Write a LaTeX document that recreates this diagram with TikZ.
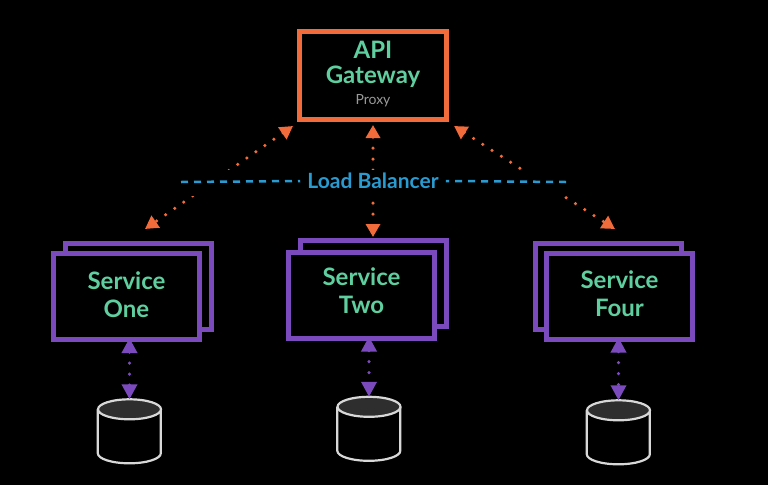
\documentclass[tikz,border=0pt]{standalone}
\usepackage{fontspec}
\setmainfont{Lato}
\usetikzlibrary{arrows.meta}
\definecolor{org}{HTML}{F26B3A}
\definecolor{pur}{HTML}{7B4BBD}
\definecolor{tl}{HTML}{5FCFA0}
\definecolor{blu}{HTML}{2A9BD0}
\definecolor{gry}{HTML}{9A9A9A}
\definecolor{cyl}{HTML}{D8D8D8}
\newcommand{\mydb}[3]{%
  \node[minimum width=63pt,minimum height=64pt,inner sep=0pt] (#1) at (#2,#3) {};
  \draw[cyl,line width=2.2pt] (#1.north west) ++(0,10) -- ++(0,44) arc[start angle=180,end angle=360,x radius=31.5pt,y radius=10pt] -- ++(0,-44);
  \draw[cyl,line width=2.2pt,fill=black!82!white] (#1.north) ++(0,10) ellipse[x radius=31.5pt,y radius=10pt];
}
\begin{document}
\begin{tikzpicture}[x=1pt,y=-1pt,
  box/.style={draw=pur,line width=5pt,fill=black,minimum width=146pt,minimum height=86pt},
  lbl/.style={text=tl,font=\bfseries\fontsize{24}{28}\selectfont,align=center},
  oarr/.style={org,line width=3.5pt,line cap=round,dash pattern=on 0pt off 11pt,{Triangle[length=13pt,width=14pt]}-{Triangle[length=13pt,width=14pt]}},
  parr/.style={pur,line width=3.5pt,line cap=round,dash pattern=on 0pt off 11pt,{Triangle[length=15pt,width=15pt]}-{Triangle[length=15pt,width=15pt]}}]
\fill[black] (0,0) rectangle (768,485);
\useasboundingbox (0,0) rectangle (768,485);
% API gateway
\node[draw=org,line width=5pt,minimum width=147pt,minimum height=88pt] (api) at (373,75) {};
\node[lbl] (apit) at (373,64) {API\\[-3pt]Gateway};
\node[text=gry,font=\fontsize{14}{16}\selectfont] (proxy) at (373,101) {Proxy};
% services
\node[box] (s1b) at (138.5,286.5) {};
\node[box] (s1) at (126.5,296.5) {};
\node[lbl] (s1t) at (126.5,295) {Service\\One};
\node[box] (s2b) at (373,283.5) {};
\node[box] (s2) at (361.5,295) {};
\node[lbl] (s2t) at (361.5,291) {Service\\Two};
\node[box] (s4b) at (608.5,286.5) {};
\node[box] (s4) at (619.5,296) {};
\node[lbl] (s4t) at (619.5,294) {Service\\Four};
% databases
\mydb{d1}{129.5}{431.5}
\mydb{d2}{369}{429}
\mydb{d4}{618.5}{432.5}
% orange arrows
\coordinate (a1) at (293,126); \coordinate (b1) at (145,229);
\coordinate (a2) at (373,125); \coordinate (b2) at (373,237);
\coordinate (a4) at (454,126); \coordinate (b4) at (615,229);
\draw[oarr] (a1) -- (b1);
\draw[oarr] (a2) -- (b2);
\draw[oarr] (a4) -- (b4);
\fill[black] (120,170) rectangle (650,196);
% load balancer
\node[text=blu,font=\bfseries\fontsize{21}{24}\selectfont,fill=black,inner xsep=7pt,inner ysep=3pt] (lb) at (373,181) {Load Balancer};
\coordinate (lbl0) at (181,182); \coordinate (lbr0) at (566,182);
\draw[blu,line width=2.5pt,dash pattern=on 7pt off 6pt] (lbl0) -- (lb.west);
\draw[blu,line width=2.5pt,dash pattern=on 7pt off 6pt] (lbr0) -- (lb.east);
% purple arrows
\draw[parr] ([yshift=4pt]s1.south -| d1) -- (d1.north);
\draw[parr] ([yshift=4pt]s2.south -| d2) -- (d2.north);
\draw[parr] ([yshift=4pt]s4.south -| d4) -- (d4.north);
\end{tikzpicture}
\end{document}
